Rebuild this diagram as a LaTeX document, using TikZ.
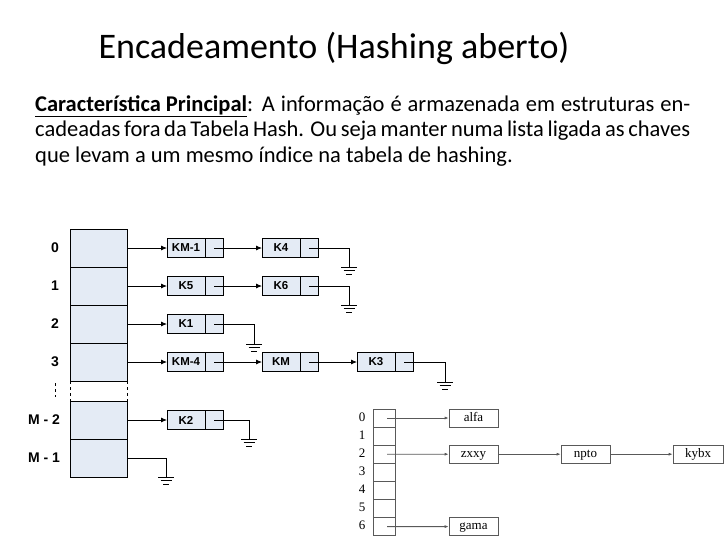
\documentclass[tikz,border=0pt]{standalone}
\usepackage{fontspec}
\setmainfont{Carlito}
\newfontfamily\arialf{Liberation Sans}
\newfontfamily\timesf{Liberation Serif}
\usetikzlibrary{arrows.meta,calc}
\definecolor{cellfill}{HTML}{E4EBF5}
\tikzset{
 cell/.style={draw,fill=cellfill,line width=0.8pt},
 lbl/.style={font=\arialf\bfseries\fontsize{14}{14}\selectfont},
 key/.style={font=\arialf\bfseries\fontsize{11.5}{11.5}\selectfont},
 arr/.style={-{Latex[length=6pt,width=5pt]},line width=0.8pt},
 gl/.style={line width=0.8pt},
 tc/.style={draw=gray!70!black,line width=0.6pt},
 tarr/.style={draw=gray!70!black,line width=0.8pt,-{Latex[length=4pt,width=3pt]}},
 tt/.style={font=\timesf\fontsize{13}{13}\selectfont,text height=8.5pt,text depth=2.5pt},
}
\newcommand{\gnd}[1]{\draw[gl] ($(#1)+(-8,0)$) -- ++(16,0) ($(#1)+(-5.5,3.5)$) -- ++(11,0) ($(#1)+(-3,7)$) -- ++(6,0);}
\begin{document}
\begin{tikzpicture}[x=1pt,y=-1pt]
\useasboundingbox (0,0) rectangle (728,546);
\node[font=\fontsize{36}{38}\selectfont] (title) at (334,48) {Encadeamento (Hashing aberto)};
\node[anchor=north west,inner sep=0pt,text width=655pt,align=justify,font=\fontsize{22.5}{25.8}\selectfont] (para) at (35,95)
 {\underline{\textbf{Característica Principal}}: A informação é armazenada em estruturas encadeadas fora da Tabela Hash. Ou seja manter numa lista ligada as chaves que levam a um mesmo índice na tabela de hashing.};
% left table
\foreach \i/\t/\b/\l/\lx in {0/229/267/0/55,1/267/305/1/55,2/305/343/2/55,3/343/381/3/55,m2/401/439/M - 2/44,m1/439/477/M - 1/44}{
 \draw[cell] (70,\t) rectangle (127,\b);
 \coordinate (t\i) at (127,{(\t+\b)/2});
 \node[lbl] (l\i) at (\lx,{(\t+\b)/2}) {\l};
}
\draw[dashed,line width=0.5pt] (70,381) -- (70,401) (127,381) -- (127,401) (55,383) -- (55,397);
% list nodes
\newcommand{\lnode}[4]{% name, x-left, y, text
 \draw[cell] (#2,#3-9.5) rectangle (#2+56,#3+9.5);
 \draw[line width=0.8pt] (#2+38,#3-9.5) -- (#2+38,#3+9.5);
 \node[key] (#1) at (#2+19,#3) {#4};
 \coordinate (#1p) at (#2+47,#3);
 \coordinate (#1w) at (#2,#3);
}
\lnode{a1}{167}{248}{KM-1}\lnode{a2}{262}{248}{K4}
\lnode{b1}{167}{286}{K5}\lnode{b2}{262}{286}{K6}
\lnode{c1}{167}{324}{K1}
\lnode{d1}{167}{362}{KM-4}\lnode{d2}{262}{362}{KM}\lnode{d3}{357}{362}{K3}
\lnode{e1}{167}{420}{K2}
\draw[arr] (t0) -- (a1w); \draw[arr] (a1p) -- (a2w);
\draw[arr] (t1) -- (b1w); \draw[arr] (b1p) -- (b2w);
\draw[arr] (t2) -- (c1w);
\draw[arr] (t3) -- (d1w); \draw[arr] (d1p) -- (d2w); \draw[arr] (d2p) -- (d3w);
\draw[arr] (tm2) -- (e1w);
\coordinate (g0) at (349,267); \draw[gl] (a2p) -| (g0); \gnd{g0}
\coordinate (g1) at (349,305); \draw[gl] (b2p) -| (g1); \gnd{g1}
\coordinate (g2) at (254,344); \draw[gl] (c1p) -| (g2); \gnd{g2}
\coordinate (g3) at (445,382); \draw[gl] (d3p) -| (g3); \gnd{g3}
\coordinate (g4) at (249,439); \draw[gl] (e1p) -| (g4); \gnd{g4}
\coordinate (g5) at (166,477); \draw[gl] (tm1) -| (g5); \gnd{g5}
% right table
\foreach \i in {0,...,6}{
 \draw[tc] (373,{409+18.1*\i}) rectangle (395,{409+18.1*(\i+1)});
 \node[tt] (n\i) at (362,{418+18.1*\i}) {\i};
 \coordinate (r\i) at (387,{418+18.1*\i});
}
\node[tt,tc,minimum width=49pt,minimum height=18pt,inner sep=0pt] (alfa) at (473.5,418) {alfa};
\node[tt,tc,minimum width=49pt,minimum height=18pt,inner sep=0pt] (zxxy) at (473.5,454.2) {zxxy};
\node[tt,tc,minimum width=49pt,minimum height=18pt,inner sep=0pt] (npto) at (585.5,454.2) {npto};
\node[tt,tc,minimum width=50pt,minimum height=18pt,inner sep=0pt] (kybx) at (698,454.2) {kybx};
\node[tt,tc,minimum width=49pt,minimum height=18pt,inner sep=0pt] (gama) at (473.5,526.6) {gama};
\draw[tarr] (r0) -- (alfa.west);
\draw[tarr] (r2) -- (zxxy.west);
\draw[tarr] (zxxy.east) -- (npto.west);
\draw[tarr] (npto.east) -- (kybx.west);
\draw[tarr] (r6) -- (gama.west);
\end{tikzpicture}
\end{document}
